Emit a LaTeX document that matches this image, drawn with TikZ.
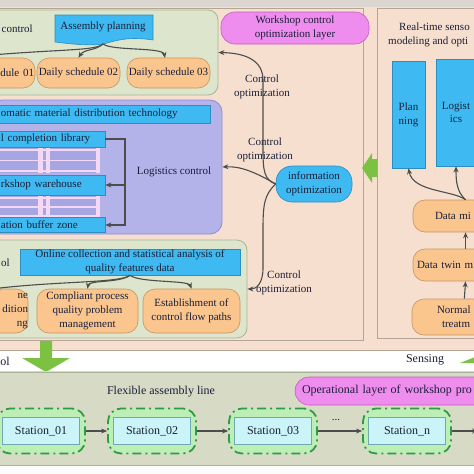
\documentclass[tikz,border=0pt]{standalone}
\usepackage{fontspec}
\setmainfont{Liberation Serif}
\usetikzlibrary{arrows.meta}
\definecolor{peach}{HTML}{F6DFCF}
\definecolor{topstrip}{HTML}{DCD6D0}
\definecolor{gpanel}{HTML}{DDE5CC}
\definecolor{gborder}{HTML}{A7B596}
\definecolor{ppanel}{HTML}{B3B3EA}
\definecolor{pborder}{HTML}{8C8CD8}
\definecolor{shelfbg}{HTML}{A6A6E2}
\definecolor{shelfline}{HTML}{F4D8F4}
\definecolor{bluef}{HTML}{3EB9F1}
\definecolor{bborder}{HTML}{2B8DC0}
\definecolor{orangef}{HTML}{FBC58E}
\definecolor{oborder}{HTML}{C99460}
\definecolor{pinkf}{HTML}{EF8DEF}
\definecolor{pkborder}{HTML}{C25BC2}
\definecolor{txtc}{HTML}{1A1F38}
\definecolor{arrowc}{HTML}{4D4D4D}
\definecolor{greenA}{HTML}{7DC142}
\definecolor{bottomp}{HTML}{D7DBC6}
\definecolor{stoutf}{HTML}{BDEEB5}
\definecolor{stoutd}{HTML}{2F9C45}
\definecolor{stinf}{HTML}{CBF4F9}
\definecolor{stind}{HTML}{6EAAB0}
\definecolor{frame}{HTML}{B5A595}
\begin{document}
\begin{tikzpicture}[x=1pt,y=-1pt,
  font=\fontsize{11}{13.8}\selectfont,
  every node/.append style={text=txtc},
  big/.style={font=\fontsize{12}{14}\selectfont},
  panelG/.style={draw=gborder, fill=gpanel, rounded corners=10pt, line width=0.8pt, inner sep=0pt},
  panelP/.style={draw=pborder, fill=ppanel, rounded corners=12pt, line width=0.8pt, inner sep=0pt},
  bbox/.style={draw=bborder, fill=bluef, line width=0.6pt, inner sep=1pt, align=center},
  obox/.style={draw=oborder, fill=orangef, rounded corners=12pt, line width=0.6pt, inner sep=1pt, align=center},
  pbox/.style={draw=pkborder, fill=pinkf, rounded corners=14pt, line width=0.6pt, inner sep=1pt, align=center},
  ibox/.style={draw=bborder, fill=bluef, rounded corners=16pt, line width=0.6pt, inner sep=1pt, align=center},
  frm/.style={draw=frame, fill=peach, line width=0.7pt, inner sep=0pt},
  stout/.style={draw=stoutd, fill=stoutf, line width=1.8pt, rounded corners=13pt, dash pattern=on 9pt off 4pt on 2pt off 4pt, inner sep=0pt},
  stin/.style={draw=stind, fill=stinf, line width=0.7pt, inner sep=1pt, big},
  lbl/.style={align=center, inner sep=1pt},
  arr/.style={draw=arrowc, line width=1.1pt, -{Stealth[length=6pt,width=5pt]}},
  shl/.style={draw=shelfline, line width=1.8pt},
  garrow/.style={fill=greenA}
]
\useasboundingbox (0,0) rectangle (474,474);
\clip (0,0) rectangle (474,474);
% backgrounds
\fill[peach] (0,0) rectangle (474,350);
\fill[topstrip] (0,0) rectangle (474,7);
\node[frm, minimum width=368, minimum height=332] (lp) at (179,174) {};
\node[frm, minimum width=113, minimum height=330] (rp) at (433.5,173) {};

% ---------- top-left green panel
\node[panelG, minimum width=228, minimum height=85] (gt) at (104,52.5) {};
\node[inner sep=1pt, anchor=east] (ctrlA) at (34,29) {control};
\filldraw[fill=bluef, draw=bborder, line width=0.6pt] (55,15) -- (153,15) -- (153,40)
  .. controls (128,36) and (115,41) .. (103,44) .. controls (90,46) and (70,44) .. (55,42) -- cycle;
\node[inner sep=1pt] (ap) at (103,27) {Assembly planning};
\coordinate (apb) at (103,44);
\node[obox, minimum width=55, minimum height=30, text width=53, align=right, inner xsep=1pt] (s1) at (7.5,73) {dule 01};
\node[obox, minimum width=83, minimum height=30, inner xsep=0pt] (s2) at (78.5,73) {Daily schedule 02};
\node[obox, minimum width=83, minimum height=30, inner xsep=0pt] (s3) at (168.5,73) {Daily schedule 03};
\draw[arr] (apb) .. controls (95,51) and (60,49) .. (-20,56);
\draw[arr] (apb) .. controls (95,51) and (84,49) .. (s2.north);
\draw[arr] (apb) .. controls (112,51) and (163,47) .. (165,58);

% ---------- workshop control optimization layer
\node[pbox, minimum width=148, minimum height=32] (wcol) at (295,28) {Workshop control\\optimization layer};

% ---------- logistics panel
\node[panelP, minimum width=232, minimum height=134] (logp) at (106,167) {};
\node[bbox, minimum height=18, text width=200, align=left, inner xsep=9pt] (b1) at (101,114) {omatic material distribution technology};
\foreach \ya/\yb in {148/173, 196/218}{
  \fill[shelfbg] (-5,\ya) rectangle (100,\yb);
  \draw[shl] (-5,\ya+2) -- (100,\ya+2);
  \draw[shl] (-5,{(\ya+\yb)/2}) -- (100,{(\ya+\yb)/2});
  \draw[shl] (-5,\yb-2) -- (100,\yb-2);
  \fill[shelfline] (38,\ya) rectangle (43,\yb);
  \fill[shelfline] (46,\ya) rectangle (50,\yb);
  \fill[shelfline] (96,\ya) rectangle (100,\yb);
}
\node[bbox, minimum height=16, text width=100, align=left, inner xsep=4pt] (lib) at (51,139) {l completion library};
\node[bbox, minimum height=20, text width=100, align=left, inner xsep=4pt] (wh) at (51,185) {rkshop warehouse};
\node[bbox, minimum height=15, text width=100, align=left, inner xsep=4pt] (buf) at (51,225) {ation buffer zone};
\node[inner sep=1pt] (lc) at (174,172) {Logistics control};
\coordinate (bus) at (125,185);
\draw[arr] (lib.east) -- (125,139) |- (buf.east);
\draw[arr] (bus) -- (wh.east);

% ---------- quality panel
\node[panelG, minimum width=257, minimum height=98] (qp) at (118.5,289) {};
\node[inner sep=1pt, anchor=east] (qctl) at (11,263) {ol};
\node[bbox, minimum width=220, minimum height=26, inner sep=1pt] (oc) at (130,262) {Online collection and statistical analysis of\\quality features data};
\node[obox, minimum width=68, minimum height=44, text width=68, align=right, inner xsep=0pt] (q1) at (-6,311) {ne\hspace{3pt}\\dition\\ng\hspace{15pt}};
\node[obox, minimum width=101, minimum height=44] (cp) at (87.5,311) {Compliant process\\quality problem\\management};
\node[obox, minimum width=97, minimum height=44] (ef) at (191.5,311) {Establishment of\\control flow paths};
\draw[arr] (oc.south) .. controls (120,283) and (60,281) .. (q1.north);
\draw[arr] (oc.south) .. controls (120,283) and (89,280) .. (cp.north);
\draw[arr] (oc.south) .. controls (140,283) and (188,280) .. (ef.north);

% ---------- information optimization
\node[ibox, minimum width=76, minimum height=36] (info) at (314,184) {information\\optimization};
\draw[arr] (info.west) .. controls (264,180) and (263,170) .. (263,150) -- (263,80) .. controls (263,60) and (245,53) .. (gt.east);
\draw[arr] (info.west) .. controls (255,172) and (240,166) .. (logp.east);
\draw[arr] (info.west) .. controls (264,195) and (263,205) .. (263,230) -- (263,268) .. controls (263,284) and (256,289) .. (qp.east);
\node[lbl] (co1) at (262,86.5) {Control\\optimization};
\node[lbl] (co2) at (265,149.5) {Control\\optimization};
\node[lbl] (co3) at (284,282.5) {Control\\optimization};

% ---------- right panel
\node[inner sep=2pt, align=left, anchor=west] (rtitle) at (386,35) {\hspace{11pt}Real-time senso\\modeling and opti};
\node[bbox, minimum width=33, minimum height=107] (plan) at (408.5,114.5) {Plan\\ning};
\node[bbox, minimum width=40, minimum height=107] (logi) at (456,112.5) {Logist\\ics};
\node[obox, minimum width=117, minimum height=32, text width=73, align=left, inner xsep=22pt] (dm) at (471.5,216) {Data mi};
\node[obox, minimum width=117, minimum height=32, text width=109, align=left, inner xsep=4pt] (twin) at (471.5,265) {Data twin m};
\node[obox, minimum width=118, minimum height=36, text width=68, align=left, inner xsep=25pt] (norm) at (471,317) {Normal\\\hspace{5pt}treatm};
\draw[arr] (dm.110) .. controls (452,190) and (413,192) .. (plan.south);
\draw[arr] (dm.110) .. controls (457,192) and (456,182) .. (logi.south);
\draw[arr] (twin.110) -- (dm.250);
\draw[arr] (norm.110) -- (twin.250);
% green arrow pointing left
\fill[garrow] (362,168) -- (372,153) -- (372,159) -- (377,159) -- (377,177) -- (372,177) -- (372,183) -- cycle;

% ---------- white band
\fill[white] (0,350) rectangle (474,371);
\draw[frame, line width=0.6pt] (0,350) -- (474,350);
\node[inner sep=1pt, anchor=east, big] (ctl2) at (11,361) {ol};
\node[inner sep=1pt, big] (sens) at (425,360) {Sensing};
\fill[garrow] (40,341) -- (52,341) -- (52,358) -- (70,358) -- (46,372) -- (22,358) -- (40,358) -- cycle;
\fill[garrow] (460,363) -- (495,349) -- (530,363) -- cycle;

% ---------- bottom operational panel
\fill[bottomp] (0,371) rectangle (474,465);
\fill[white!92!bottomp] (0,465) rectangle (474,474);
\draw[gborder, line width=0.8pt] (0,372) -- (474,372);
\draw[gborder, line width=0.8pt] (0,465) -- (474,465);
\node[inner sep=1pt, big] (fal) at (161,392) {Flexible assembly line};
\node[pbox, big, minimum width=245, minimum height=28, text width=231, align=left, inner xsep=7pt] (opl) at (417.5,391) {Operational layer of workshop pro};

\node[stout, minimum width=88, minimum height=45] (o1) at (41,431) {};
\node[stin, minimum width=77, minimum height=27] (st1) at (41,431) {Station\_01};
\node[stout, minimum width=88, minimum height=45] (o2) at (152,431) {};
\node[stin, minimum width=77, minimum height=27] (st2) at (152,431) {Station\_02};
\node[stout, minimum width=88, minimum height=45] (o3) at (273,431) {};
\node[stin, minimum width=77, minimum height=27] (st3) at (273,431) {Station\_03};
\node[stout, minimum width=88, minimum height=45] (on) at (407,431) {};
\node[stin, minimum width=77, minimum height=27] (stn) at (407,431) {Station\_n};
\coordinate (lineout) at (478,431);
\draw[arr] (o1.east) -- (o2.west);
\draw[arr] (o2.east) -- (o3.west);
\draw[arr] (o3.east) -- (on.west);
\draw[arr] (on.east) -- (lineout);
\node[inner sep=1pt] (dots) at (336,420) {...};
\end{tikzpicture}
\end{document}
